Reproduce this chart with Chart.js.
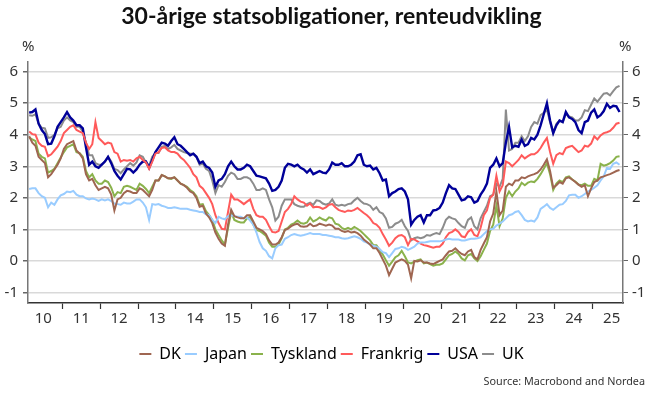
<!DOCTYPE html>
<html>
<head>
<meta charset="utf-8">
<script src="https://cdn.jsdelivr.net/npm/chart.js@4.4.1/dist/chart.umd.min.js"></script>
<style>
  body { margin: 0; background: #fff; }
  #wrap { position: relative; width: 663px; height: 399px; font-family: "Noto Sans", sans-serif; color: #222; }
  #chart { position: absolute; left: 0; top: 0; }
  #title { position: absolute; left: 0; top: 1px; width: 663px; text-align: center; font: 700 23px Lato, sans-serif; color: #111; }
  .pct { position: absolute; top: 35px; font-size: 15px; color: #333; }
  #source { position: absolute; right: 18px; top: 373px; font-size: 10.8px; color: #333; }
</style>
</head>
<body>
<div id="wrap">
  <canvas id="chart" width="663" height="399"></canvas>
  <div id="title">30-årige statsobligationer, renteudvikling</div>
  <div class="pct" style="left:22px">%</div>
  <div class="pct" style="left:619px">%</div>
  <div id="source">Source: Macrobond and Nordea</div>
</div>
<script>
// Monthly observations, Feb 2010 .. Sep 2025 (one row per year)
const firstMonth = [2010, 2];   // year, month of the first value

const DK = [
  3.95, 3.75, 3.65, 3.30, 3.20, 3.10, 2.65, 2.75, 2.90, 3.05, 3.25,
  3.55, 3.70, 3.75, 3.80, 3.50, 3.40, 3.25, 2.75, 2.55, 2.60, 2.40, 2.25,
  2.30, 2.35, 2.30, 2.10, 1.60, 1.95, 2.00, 2.15, 2.22, 2.20, 2.15, 2.15,
  2.30, 2.25, 2.15, 2.05, 2.25, 2.55, 2.55, 2.72, 2.68, 2.62, 2.62, 2.65,
  2.55, 2.45, 2.40, 2.32, 2.20, 2.15, 2.00, 1.72, 1.75, 1.50, 1.38, 1.20,
  0.90, 0.70, 0.55, 0.48, 1.15, 1.62, 1.42, 1.38, 1.35, 1.35, 1.45, 1.45,
  1.25, 1.05, 1.00, 0.95, 0.85, 0.65, 0.52, 0.52, 0.58, 0.75, 0.98, 1.02,
  1.10, 1.15, 1.18, 1.10, 1.08, 1.10, 1.18, 1.10, 1.12, 1.18, 1.15, 1.12,
  1.15, 1.12, 1.02, 1.02, 0.95, 0.92, 0.95, 0.90, 0.92, 0.88, 0.80, 0.68,
  0.60, 0.52, 0.40, 0.40, 0.25, 0.05, -0.15, -0.45, -0.25, -0.05, 0.00, 0.05,
  0.00, -0.12, -0.55, 0.00, -0.02, 0.02, -0.05, -0.05, -0.08, -0.10, -0.05, 0.00,
  0.05, 0.18, 0.30, 0.32, 0.40, 0.30, 0.22, 0.18, 0.30, 0.35, 0.12, 0.05,
  0.35, 0.55, 0.75, 1.25, 1.50, 2.20, 1.45, 1.60, 2.35, 2.45, 2.40, 2.55,
  2.55, 2.65, 2.62, 2.68, 2.72, 2.75, 2.80, 2.90, 3.05, 3.22, 2.85, 2.32,
  2.40, 2.50, 2.45, 2.62, 2.65, 2.58, 2.50, 2.42, 2.35, 2.40, 2.05, 2.30,
  2.50, 2.55, 2.65, 2.68, 2.72, 2.75, 2.80, 2.85, 2.88
];
const Japan = [
  2.28, 2.30, 2.30, 2.15, 2.05, 2.00, 1.70, 1.85, 1.78, 1.95, 2.08,
  2.12, 2.20, 2.18, 2.22, 2.10, 2.05, 2.05, 1.98, 1.95, 1.98, 1.95, 1.90,
  1.95, 1.92, 1.95, 1.90, 1.82, 1.80, 1.78, 1.85, 1.82, 1.82, 1.88, 1.95,
  1.95, 1.85, 1.70, 1.30, 1.80, 1.78, 1.80, 1.75, 1.72, 1.68, 1.68, 1.70,
  1.68, 1.65, 1.65, 1.65, 1.62, 1.60, 1.58, 1.55, 1.55, 1.48, 1.45, 1.30,
  1.20, 1.40, 1.35, 1.32, 1.42, 1.45, 1.42, 1.40, 1.40, 1.35, 1.38, 1.28,
  1.15, 0.90, 0.60, 0.40, 0.32, 0.15, 0.08, 0.40, 0.50, 0.52, 0.70, 0.75,
  0.82, 0.85, 0.82, 0.80, 0.82, 0.85, 0.88, 0.85, 0.85, 0.85, 0.82, 0.82,
  0.80, 0.78, 0.75, 0.75, 0.72, 0.70, 0.72, 0.75, 0.78, 0.75, 0.70, 0.62,
  0.58, 0.52, 0.48, 0.45, 0.38, 0.28, 0.25, 0.12, 0.25, 0.38, 0.40, 0.45,
  0.42, 0.35, 0.40, 0.45, 0.55, 0.58, 0.58, 0.60, 0.62, 0.62, 0.62, 0.62,
  0.64, 0.68, 0.70, 0.68, 0.68, 0.68, 0.65, 0.65, 0.68, 0.70, 0.70, 0.72,
  0.75, 0.85, 0.95, 1.00, 1.02, 1.12, 1.18, 1.25, 1.35, 1.45, 1.48, 1.55,
  1.58, 1.45, 1.30, 1.25, 1.28, 1.25, 1.38, 1.65, 1.72, 1.80, 1.68, 1.62,
  1.70, 1.78, 1.80, 1.90, 2.08, 2.10, 2.10, 2.00, 2.05, 2.12, 2.20, 2.25,
  2.32, 2.40, 2.55, 2.68, 2.95, 2.92, 3.08, 3.12, 3.05
];
const Tyskland = [
  3.92, 3.85, 3.80, 3.40, 3.30, 3.25, 2.80, 2.85, 2.92, 3.10, 3.28,
  3.45, 3.60, 3.65, 3.70, 3.45, 3.42, 3.30, 2.85, 2.65, 2.75, 2.55, 2.45,
  2.45, 2.55, 2.50, 2.32, 2.05, 2.18, 2.15, 2.35, 2.38, 2.35, 2.30, 2.25,
  2.45, 2.38, 2.28, 2.15, 2.35, 2.55, 2.55, 2.72, 2.68, 2.62, 2.60, 2.65,
  2.55, 2.45, 2.40, 2.35, 2.25, 2.18, 2.05, 1.78, 1.80, 1.58, 1.45, 1.30,
  1.00, 0.82, 0.65, 0.52, 1.05, 1.55, 1.30, 1.25, 1.22, 1.22, 1.35, 1.40,
  1.15, 0.98, 0.95, 0.88, 0.80, 0.58, 0.45, 0.45, 0.52, 0.72, 1.00, 1.05,
  1.15, 1.20, 1.28, 1.20, 1.18, 1.22, 1.38, 1.25, 1.30, 1.38, 1.32, 1.28,
  1.38, 1.35, 1.18, 1.15, 1.05, 1.00, 1.05, 1.00, 1.08, 1.02, 0.95, 0.85,
  0.75, 0.65, 0.50, 0.50, 0.35, 0.20, 0.02, -0.15, -0.02, 0.12, 0.18, 0.32,
  0.15, -0.05, -0.08, -0.02, 0.02, 0.05, -0.08, -0.05, -0.10, -0.15, -0.12, -0.12,
  -0.08, 0.05, 0.18, 0.22, 0.30, 0.22, 0.08, 0.02, 0.18, 0.22, 0.08, 0.00,
  0.15, 0.35, 0.55, 0.95, 1.15, 1.75, 1.10, 1.35, 2.00, 2.20, 2.05, 2.20,
  2.30, 2.48, 2.40, 2.48, 2.52, 2.50, 2.60, 2.75, 2.92, 3.10, 2.75, 2.25,
  2.45, 2.55, 2.50, 2.65, 2.68, 2.58, 2.52, 2.42, 2.40, 2.45, 2.38, 2.38,
  2.60, 2.55, 3.08, 3.02, 3.05, 3.10, 3.18, 3.30, 3.32
];
const Frankrig = [
  4.10, 4.02, 4.00, 3.75, 3.65, 3.62, 3.32, 3.38, 3.50, 3.62, 3.80,
  4.05, 4.15, 4.25, 4.30, 4.15, 4.10, 4.05, 3.75, 3.55, 3.70, 4.40, 3.90,
  3.80, 3.70, 3.75, 3.72, 3.45, 3.40, 3.15, 3.20, 3.18, 3.20, 3.15, 3.25,
  3.30, 3.20, 3.12, 2.92, 3.15, 3.40, 3.45, 3.58, 3.60, 3.50, 3.45, 3.45,
  3.40, 3.28, 3.20, 3.08, 2.95, 2.75, 2.65, 2.38, 2.30, 2.15, 2.00, 1.80,
  1.45, 1.20, 1.02, 1.00, 1.55, 2.10, 1.95, 1.95, 1.88, 1.80, 1.88, 1.95,
  1.65, 1.45, 1.40, 1.40, 1.30, 1.10, 0.92, 0.90, 0.95, 1.25, 1.55, 1.65,
  1.80, 2.05, 1.95, 1.88, 1.85, 1.75, 1.82, 1.70, 1.72, 1.70, 1.65, 1.70,
  1.78, 1.80, 1.70, 1.62, 1.58, 1.55, 1.60, 1.58, 1.62, 1.68, 1.60, 1.52,
  1.45, 1.35, 1.20, 1.15, 1.05, 0.85, 0.68, 0.48, 0.58, 0.72, 0.80, 0.82,
  0.75, 0.50, 0.70, 0.68, 0.62, 0.55, 0.50, 0.48, 0.45, 0.42, 0.45, 0.45,
  0.55, 0.75, 0.88, 0.92, 1.00, 0.92, 0.78, 0.75, 0.92, 1.00, 0.82, 0.78,
  1.05, 1.45, 1.60, 2.00, 2.10, 2.70, 2.20, 2.40, 3.15, 3.10, 3.00, 3.10,
  3.20, 3.35, 3.25, 3.32, 3.38, 3.38, 3.45, 3.58, 3.75, 3.90, 3.45, 3.08,
  3.35, 3.42, 3.38, 3.58, 3.62, 3.65, 3.55, 3.45, 3.50, 3.65, 3.62, 3.72,
  3.95, 3.85, 3.98, 4.05, 4.08, 4.12, 4.22, 4.35, 4.38
];
const USA = [
  4.70, 4.72, 4.80, 4.35, 4.15, 4.02, 3.70, 3.72, 3.95, 4.25, 4.40,
  4.55, 4.72, 4.55, 4.45, 4.30, 4.30, 4.20, 3.60, 3.05, 3.15, 3.00, 2.95,
  3.05, 3.15, 3.30, 3.10, 2.85, 2.70, 2.58, 2.75, 2.92, 2.90, 2.80, 2.90,
  3.05, 3.15, 3.15, 2.95, 3.20, 3.45, 3.60, 3.75, 3.72, 3.65, 3.80, 3.92,
  3.70, 3.65, 3.55, 3.45, 3.35, 3.40, 3.30, 3.10, 3.15, 3.00, 2.95, 2.80,
  2.35, 2.55, 2.60, 2.75, 3.00, 3.15, 3.00, 2.90, 2.90, 2.95, 3.05, 3.00,
  2.85, 2.70, 2.68, 2.65, 2.62, 2.45, 2.22, 2.25, 2.35, 2.55, 2.95, 3.08,
  3.05, 3.00, 3.05, 2.95, 2.90, 2.80, 2.90, 2.75, 2.80, 2.85, 2.80, 2.78,
  2.90, 3.12, 3.05, 3.05, 3.10, 3.00, 3.00, 3.05, 3.15, 3.35, 3.38, 3.05,
  3.00, 3.02, 2.90, 2.95, 2.78, 2.55, 2.58, 2.05, 2.15, 2.20, 2.28, 2.30,
  2.20, 1.95, 1.15, 1.30, 1.40, 1.45, 1.22, 1.45, 1.45, 1.60, 1.62, 1.68,
  1.85, 2.15, 2.40, 2.30, 2.28, 2.10, 1.92, 1.95, 2.05, 2.02, 1.85, 1.90,
  2.10, 2.25, 2.45, 2.95, 3.05, 3.25, 3.00, 3.10, 3.75, 4.25, 3.60, 3.65,
  3.62, 3.85, 3.65, 3.70, 3.90, 3.85, 4.00, 4.30, 4.65, 5.00, 4.45, 4.05,
  4.30, 4.45, 4.40, 4.72, 4.55, 4.50, 4.40, 4.15, 4.05, 4.40, 4.45, 4.70,
  4.80, 4.55, 4.62, 4.75, 4.98, 4.85, 4.92, 4.90, 4.72
];
const UK = [
  4.62, 4.60, 4.65, 4.35, 4.22, 4.20, 3.90, 3.92, 4.00, 4.20, 4.25,
  4.45, 4.55, 4.45, 4.40, 4.25, 4.25, 4.10, 3.75, 3.35, 3.35, 3.10, 3.05,
  3.05, 3.15, 3.30, 3.15, 2.92, 2.88, 2.78, 2.90, 3.00, 3.10, 3.02, 3.12,
  3.35, 3.30, 3.12, 3.02, 3.30, 3.42, 3.42, 3.62, 3.65, 3.55, 3.60, 3.68,
  3.55, 3.50, 3.45, 3.42, 3.40, 3.40, 3.30, 3.05, 3.08, 2.92, 2.85, 2.55,
  2.15, 2.40, 2.35, 2.50, 2.70, 2.80, 2.75, 2.60, 2.60, 2.65, 2.65, 2.60,
  2.45, 2.25, 2.25, 2.30, 2.25, 1.95, 1.70, 1.28, 1.40, 1.75, 1.95, 1.95,
  1.95, 1.80, 1.75, 1.72, 1.72, 1.80, 1.85, 1.78, 1.92, 1.90, 1.82, 1.78,
  1.82, 1.95, 1.78, 1.75, 1.78, 1.75, 1.80, 1.82, 1.92, 2.00, 1.90, 1.82,
  1.80, 1.75, 1.62, 1.70, 1.55, 1.50, 1.35, 1.05, 1.08, 1.18, 1.22, 1.30,
  1.10, 0.95, 0.65, 0.72, 0.75, 0.72, 0.75, 0.82, 0.80, 0.85, 0.88, 0.85,
  1.05, 1.30, 1.40, 1.35, 1.32, 1.20, 1.10, 1.05, 1.30, 1.38, 1.10, 1.00,
  1.35, 1.55, 1.75, 2.05, 2.10, 2.45, 2.35, 2.60, 4.80, 3.50, 3.55, 3.75,
  3.75, 3.95, 3.80, 3.95, 4.25, 4.40, 4.35, 4.62, 4.70, 4.80, 4.40, 4.05,
  4.35, 4.45, 4.40, 4.65, 4.58, 4.55, 4.45, 4.45, 4.55, 4.78, 4.75, 4.95,
  5.15, 5.05, 5.18, 5.30, 5.32, 5.25, 5.38, 5.50, 5.55
];

const seriesNames = ["DK", "Japan", "Tyskland", "Frankrig", "USA", "UK"];
const seriesValues = [DK, Japan, Tyskland, Frankrig, USA, UK];
const seriesColors = ["#9f6651", "#99ccff", "#8ab24c", "#ff5a5a", "#000099", "#8c8c8c"];
const yearLabels = ["10", "11", "12", "13", "14", "15", "16", "17", "18", "19", "20", "21", "22", "23", "24", "25"];
const yTicks = [-1, 0, 1, 2, 3, 4, 5, 6];

// mid-month position as decimal year
const monthX = i => firstMonth[0] + (firstMonth[1] - 1 + i + 0.5) / 12;

// year boundaries get tick marks, mid-years carry the labels
const xTicks = [];
yearLabels.forEach((_, i) => {
  xTicks.push(2010 + i + 0.5);
  if (i > 0) xTicks.push(2010 + i);
});

const font = { family: "'Noto Sans', sans-serif", size: 15 };

new Chart(document.getElementById("chart"), {
  type: "line",
  data: {
    datasets: seriesNames.map((name, k) => ({
      label: name,
      data: seriesValues[k].map((v, i) => ({ x: monthX(i), y: v })),
      borderColor: seriesColors[k],
      backgroundColor: seriesColors[k],
      borderWidth: name === "USA" ? 2.4 : 2,
      pointRadius: 0,
      tension: 0
    }))
  },
  options: {
    responsive: false,
    animation: false,
    devicePixelRatio: 1,
    layout: { padding: { top: 62, bottom: 27, left: 0, right: 0 } },
    plugins: {
      tooltip: { enabled: false },
      legend: {
        position: "bottom",
        labels: {
          boxWidth: 12,
          boxHeight: 2,
          padding: 4,
          color: "#222",
          font: { family: "'Noto Sans', sans-serif", size: 16 },
          generateLabels: chart => chart.data.datasets.map((ds, i) => ({
            text: ds.label, fillStyle: ds.borderColor, strokeStyle: ds.borderColor,
            lineWidth: 0, datasetIndex: i, hidden: false
          }))
        }
      }
    },
    scales: {
      x: {
        type: "linear",
        min: 2010.095,
        max: 2025.8,
        afterBuildTicks: s => { s.ticks = xTicks.map(v => ({ value: v })); },
        afterFit: s => { s.height = 39; },
        ticks: {
          autoSkip: false, maxRotation: 0, padding: 1, color: "#333", font,
          callback: v => Number.isInteger(v) ? "" : yearLabels[Math.floor(v) - 2010]
        },
        grid: {
          drawOnChartArea: false,
          tickLength: 6,
          tickWidth: 1.2,
          tickColor: c => Number.isInteger(c.tick.value) ? "#333" : "rgba(0,0,0,0)"
        },
        border: { color: "#333", width: 1.5 }
      },
      y: {
        position: "left",
        min: -1.334,
        max: 6.306,
        afterBuildTicks: s => { s.ticks = yTicks.map(v => ({ value: v })); },
        afterFit: s => { s.width = 28; },
        ticks: { color: "#333", font, padding: 5 },
        grid: { color: "#d9d9d9", lineWidth: 1.5, tickLength: 5, tickColor: "#666" },
        border: { color: "#777", width: 1.5 }
      },
      y2: {
        position: "right",
        min: -1.334,
        max: 6.306,
        afterBuildTicks: s => { s.ticks = yTicks.map(v => ({ value: v })); },
        afterFit: s => { s.width = 40; },
        ticks: { color: "#333", font, padding: 4 },
        grid: { drawOnChartArea: false, tickLength: 5, tickColor: "#666" },
        border: { color: "#777", width: 1.5 }
      }
    }
  }
});
</script>
</body>
</html>
